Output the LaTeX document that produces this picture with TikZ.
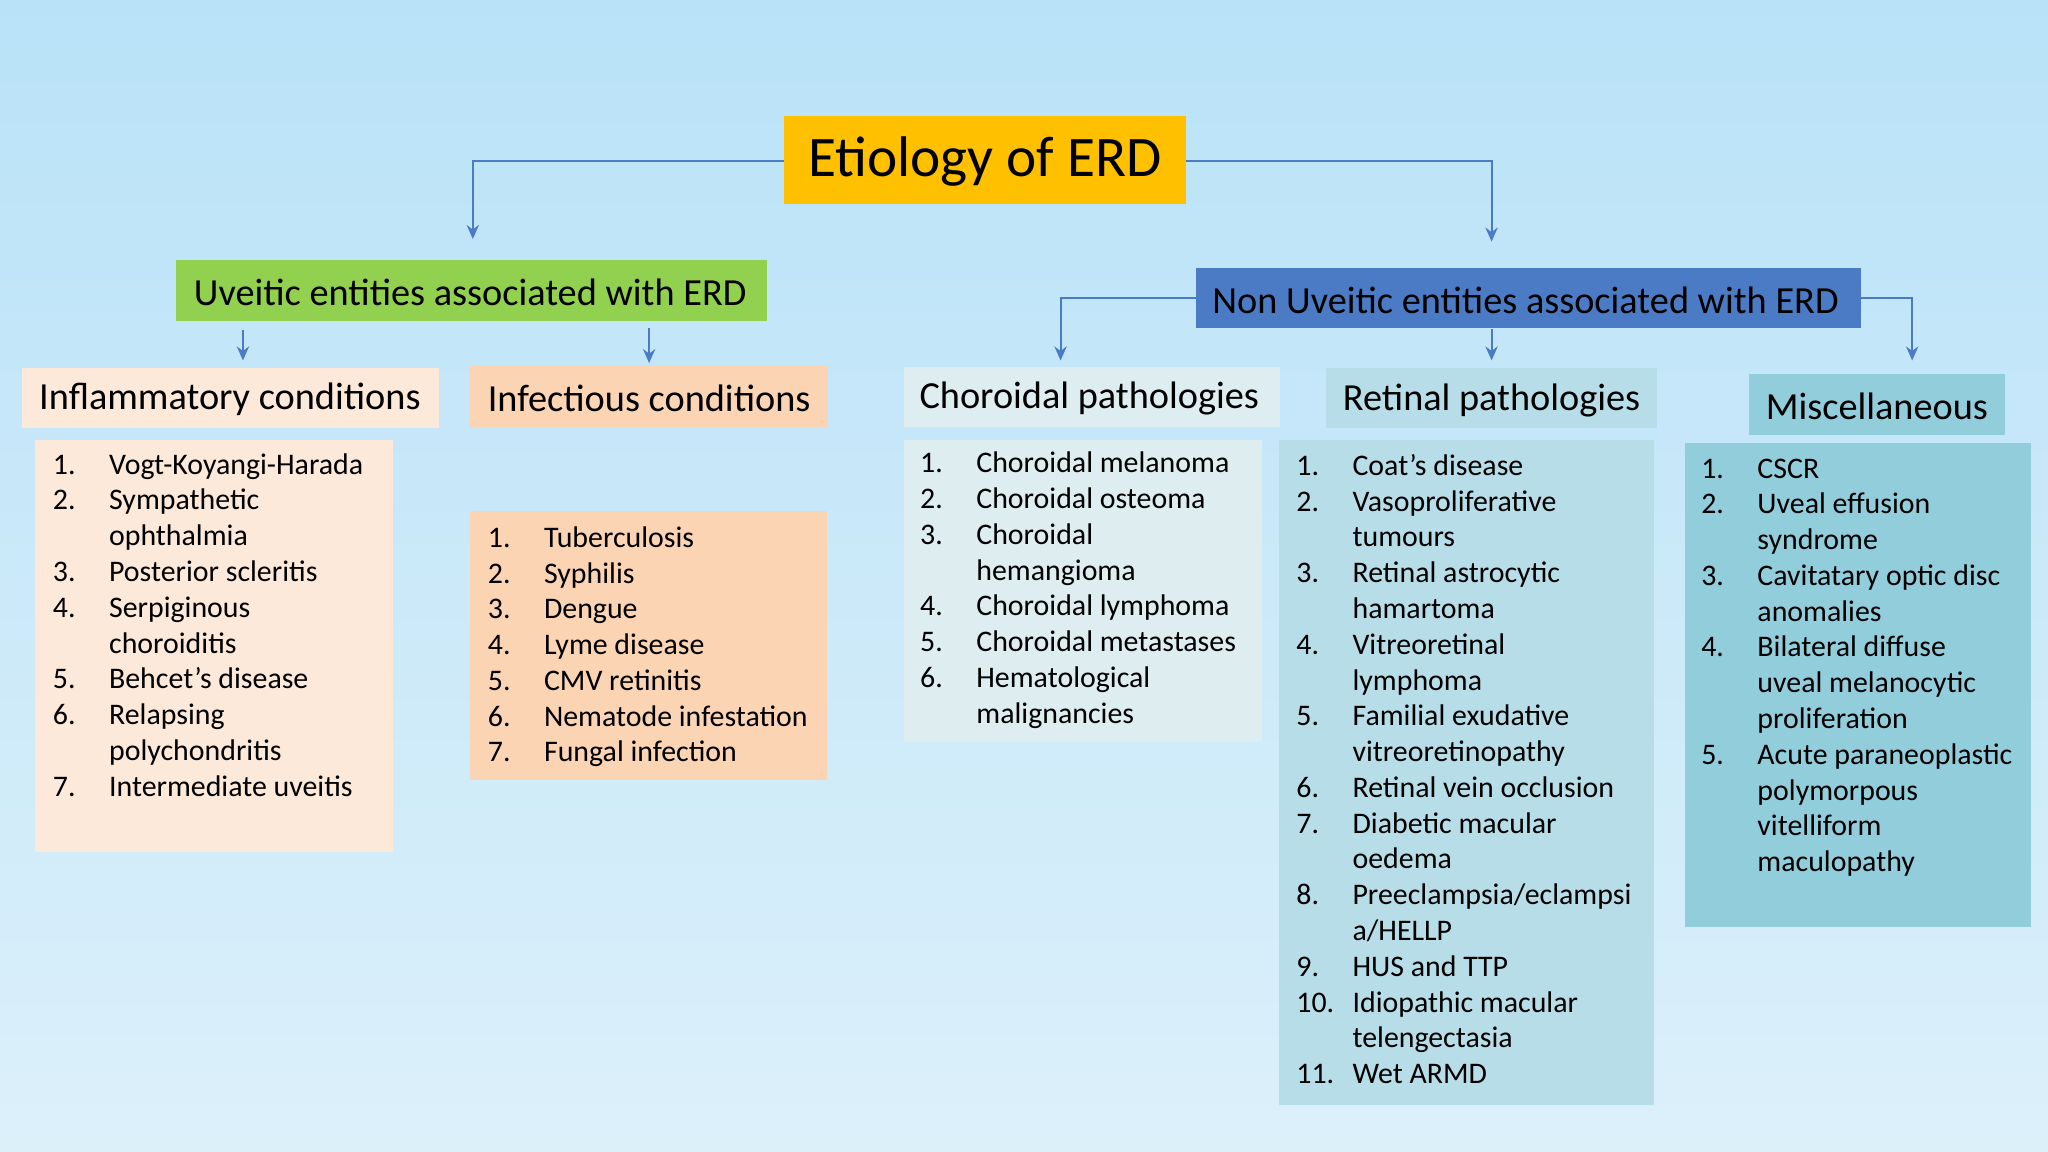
\documentclass[tikz,border=0pt]{standalone}
\usepackage{fontspec}
\setmainfont{Carlito}
\usetikzlibrary{arrows.meta}
\definecolor{bgA}{HTML}{B9E2F8}
\definecolor{bgB}{HTML}{DCF0FA}
\definecolor{ttl}{HTML}{FFC000}
\definecolor{uve}{HTML}{92D050}
\definecolor{nuv}{HTML}{4A7BC4}
\definecolor{inf}{HTML}{FDE9D9}
\definecolor{ifc}{HTML}{FBD4B4}
\definecolor{chr}{HTML}{DDEDF0}
\definecolor{ret}{HTML}{B7DEE8}
\definecolor{misc}{HTML}{92CDDC}
\definecolor{ln}{HTML}{4A7BC4}
\newcommand{\bodyf}{\fontsize{8.5}{10.18}\selectfont}
\newcommand{\lst}[1]{\bodyf\begin{tabular}[t]{@{}p{0.562cm}@{}l@{}}#1\end{tabular}}
\tikzset{
 hdr/.style={font=\fontsize{10.9}{12}\selectfont, text=black, inner sep=0pt},
 lbox/.style={inner sep=0pt, anchor=base west, text=black},
 conn/.style={draw=ln, line width=0.6pt},
 arr/.style={conn, -{Stealth[length=4pt,width=3.5pt]}}
}
\begin{document}
\begin{tikzpicture}[x=0.013061cm,y=-0.013061cm]
\shade[top color=bgA, bottom color=bgB] (0,0) rectangle (1568,882);
\useasboundingbox (0,0) rectangle (1568,882);
% boxes
\fill[ttl] (600,89) rectangle (908,156);
\fill[uve] (135,199) rectangle (587,246);
\fill[nuv] (916,205) rectangle (1425,251);
\fill[inf] (17,282) rectangle (336,328);
\fill[ifc] (360,280) rectangle (634,327);
\fill[chr] (692,281) rectangle (980,327);
\fill[ret] (1015,282) rectangle (1269,328);
\fill[misc] (1339,286) rectangle (1535,333);
\fill[inf] (27,337) rectangle (301,652);
\fill[ifc] (360,391) rectangle (633,597);
\fill[chr] (692,337) rectangle (966,568);
\fill[ret] (979,337) rectangle (1266,846);
\fill[misc] (1290,339) rectangle (1555,710);
% headers
\node[inner sep=0pt,font=\fontsize{16.3}{18}\selectfont] (title) at (754,124) {Etiology of ERD};
\node[hdr] (uv) at (360,224) {Uveitic entities associated with ERD};
\node[hdr] (nu) at (1168,230) {Non Uveitic entities associated with ERD};
\node[hdr] (ih) at (176,306) {Inflammatory conditions};
\node[hdr] (fh) at (497,305) {Infectious conditions};
\node[hdr] (ch) at (834,305) {Choroidal pathologies};
\node[hdr] (rh) at (1142,307) {Retinal pathologies};
\node[hdr] (mh) at (1437,311) {Miscellaneous};
% connectors
\coordinate (t1) at (362,123); \coordinate (t2) at (362,183);
\coordinate (t3) at (1142,123); \coordinate (t4) at (1142,185);
\draw[arr] (600,123) -- (t1) -- (t2);
\draw[arr] (908,123) -- (t3) -- (t4);
\draw[arr] (186,253) -- (186,276);
\draw[arr] (497,251) -- (497,278);
\draw[arr] (916,228) -- (812,228) -- (812,276);
\draw[arr] (1142,252) -- (1142,276);
\draw[arr] (1425,228) -- (1464,228) -- (1464,276);
% lists
\node[lbox] (l1) at (40,363) {\lst{1.&Vogt-Koyangi-Harada\\2.&Sympathetic\\&ophthalmia\\3.&Posterior scleritis\\4.&Serpiginous\\&choroiditis\\5.&Behcet’s disease\\6.&Relapsing\\&polychondritis\\7.&Intermediate uveitis}};
\node[lbox] (l2) at (373,419) {\lst{1.&Tuberculosis\\2.&Syphilis\\3.&Dengue\\4.&Lyme disease\\5.&CMV retinitis\\6.&Nematode infestation\\7.&Fungal infection}};
\node[lbox] (l3) at (704,362) {\lst{1.&Choroidal melanoma\\2.&Choroidal osteoma\\3.&Choroidal\\&hemangioma\\4.&Choroidal lymphoma\\5.&Choroidal metastases\\6.&Hematological\\&malignancies}};
\node[lbox] (l4) at (992,364) {\lst{1.&Coat’s disease\\2.&Vasoproliferative\\&tumours\\3.&Retinal astrocytic\\&hamartoma\\4.&Vitreoretinal\\&lymphoma\\5.&Familial exudative\\&vitreoretinopathy\\6.&Retinal vein occlusion\\7.&Diabetic macular\\&oedema\\8.&Preeclampsia/eclampsi\\&a/HELLP\\9.&HUS and TTP\\10.&Idiopathic macular\\&telengectasia\\11.&Wet ARMD}};
\node[lbox] (l5) at (1302,366) {\lst{1.&CSCR\\2.&Uveal effusion\\&syndrome\\3.&Cavitatary optic disc\\&anomalies\\4.&Bilateral diffuse\\&uveal melanocytic\\&proliferation\\5.&Acute paraneoplastic\\&polymorpous\\&vitelliform\\&maculopathy}};
\end{tikzpicture}
\end{document}
